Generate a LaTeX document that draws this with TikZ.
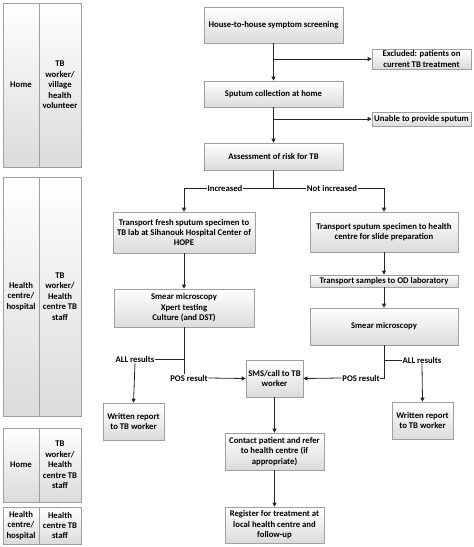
\documentclass[tikz,border=0pt]{standalone}
\usepackage{fontspec}
\setmainfont{Carlito}
\usetikzlibrary{arrows.meta,shadows}

\tikzset{
  box/.style={draw=gray!75, line width=0.6pt, top color=white, bottom color=gray!28,
    drop shadow={opacity=0.35, shadow xshift=1.2pt, shadow yshift=-1.2pt},
    align=center, inner sep=1pt, font=\fontsize{8.7}{10.4}\selectfont\bfseries},
  lane/.style={box},
  lbl/.style={inner sep=0.6pt, font=\fontsize{8.7}{10.4}\selectfont\bfseries},
  link/.style={line width=0.8pt, draw=black!85},
  arr/.style={link, -{Triangle[length=4pt, width=4pt]}}
}

\begin{document}
\begin{tikzpicture}[x=1pt, y=-1pt]
  \useasboundingbox (0,0) rectangle (474,547);

  % lanes
  \node[lane, minimum width=36pt, minimum height=164pt] (homeA) at (21,85) {Home};
  \node[lane, minimum width=42pt, minimum height=164pt] (homeB) at (60,85) {TB\\worker/\\village\\health\\volunteer};
  \node[lane, minimum width=36pt, minimum height=239pt] (hospA) at (21,296.5) {Health\\centre/\\hospital};
  \node[lane, minimum width=42pt, minimum height=239pt] (hospB) at (60,296.5) {TB\\worker/\\Health\\centre TB\\staff};
  \node[lane, minimum width=36pt, minimum height=74pt] (home2A) at (21,465) {Home};
  \node[lane, minimum width=42pt, minimum height=74pt] (home2B) at (60,465) {TB\\worker/\\Health\\centre TB\\staff};
  \node[lane, minimum width=36pt, minimum height=37pt] (hosp2A) at (21,525.5) {Health\\centre/\\hospital};
  \node[lane, minimum width=42pt, minimum height=37pt] (hosp2B) at (60,525.5) {Health\\centre TB\\staff};

  % main flow
  \node[box, minimum width=139pt, minimum height=36pt] (house) at (273.5,25) {House-to-house symptom screening};
  \node[box, minimum width=99pt, minimum height=20pt] (excl) at (421.5,59) {Excluded: patients on\\current TB treatment};
  \node[box, minimum width=139pt, minimum height=26pt] (sputum) at (273.5,94) {Sputum collection at home};
  \node[box, minimum width=99pt, minimum height=14pt] (unable) at (421.5,119) {Unable to provide sputum};
  \node[box, minimum width=139pt, minimum height=27pt] (assess) at (273.5,156.5) {Assessment of risk for TB};

  \node[box, minimum width=142pt, minimum height=41pt] (transF) at (184,232.5) {Transport fresh sputum specimen to\\TB lab at Sihanouk Hospital Center of\\HOPE};
  \node[box, minimum width=148pt, minimum height=40pt] (transS) at (384,232) {Transport sputum specimen to health\\centre for slide preparation};
  \node[box, minimum width=148pt, minimum height=12pt] (od) at (384,281) {Transport samples to OD laboratory};
  \node[box, minimum width=140pt, minimum height=38pt] (smearL) at (184,308) {Smear microscopy\\Xpert testing\\Culture (and DST)};
  \node[box, minimum width=148pt, minimum height=37pt] (smearR) at (384,326.5) {Smear microscopy};

  \node[box, minimum width=57pt, minimum height=37pt] (sms) at (274.5,378.5) {SMS/call to TB\\worker};
  \node[box, minimum width=61pt, minimum height=37pt] (repL) at (133.5,421.5) {Written report\\to TB worker};
  \node[box, minimum width=61pt, minimum height=37pt] (repR) at (422.5,420.5) {Written report\\to TB worker};
  \node[box, minimum width=99pt, minimum height=37pt] (contact) at (274.5,451.5) {Contact patient and refer\\to health centre (if\\appropriate)};
  \node[box, minimum width=99pt, minimum height=36pt] (reg) at (274.5,525) {Register for treatment at\\local health centre and\\follow-up};

  % labels
  \coordinate (split) at (273.5,188);
  \node[lbl] (incL) at (225,188) {Increased};
  \node[lbl] (notL) at (332,188) {Not increased};
  \node[lbl] (allL) at (135,359) {ALL results};
  \node[lbl] (posL) at (189,378) {POS result};
  \node[lbl] (posR) at (361,378) {POS result};
  \node[lbl] (allR) at (422,360) {ALL results};

  % connectors
  \draw[arr] (house) -- (sputum);
  \draw[arr] (house.south |- excl.west) -- (excl.west);
  \draw[arr] (sputum) -- (assess);
  \draw[arr] (sputum.south |- unable.west) -- (unable.west);
  \draw[link] (assess) -- (split);
  \draw[link] (split) -- (incL.east);
  \draw[arr] (incL.west) -| (transF.north);
  \draw[link] (split) -- (notL.west);
  \draw[arr] (notL.east) -| (transS.north);
  \draw[arr] (transF) -- (smearL);
  \draw[arr] (transS) -- (od);
  \draw[arr] (od) -- (smearR);

  \draw[link] (smearL.south) -- (smearL.south |- posL.north);
  \draw[link] (allL.east) -- (allL.east -| smearL.south);
  \draw[arr] (posL.east) -- (sms.west);
  \draw[arr] (allL.south) -- (repL.north);

  \draw[link] (smearR.south) |- (posR.east);
  \draw[link] (smearR.south |- allR.west) -- (allR.west);
  \draw[arr] (posR.west) -- (sms.east);
  \draw[arr] (allR.south) -- (repR.north);

  \draw[arr] (sms) -- (contact);
  \draw[arr] (contact) -- (reg);
\end{tikzpicture}
\end{document}
